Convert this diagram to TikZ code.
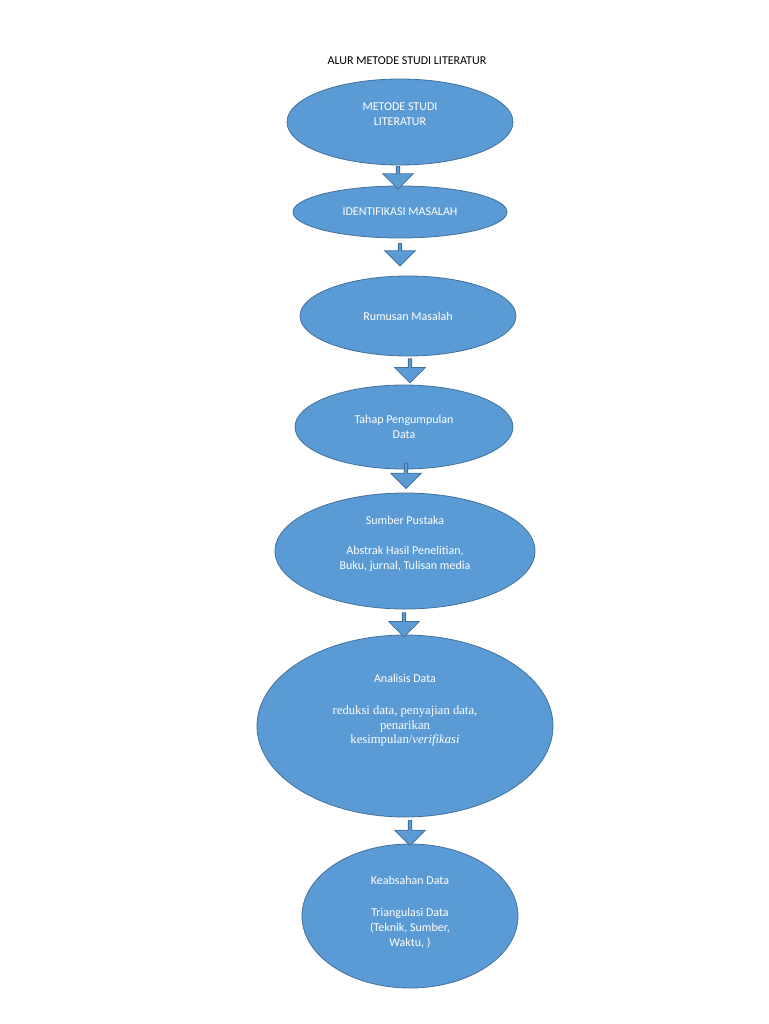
\documentclass[tikz,border=0pt]{standalone}
\usepackage{fontspec}
\setmainfont{Carlito}
\newfontfamily\serifrm{Liberation Serif}
\usetikzlibrary{shapes.arrows}

\definecolor{stepblue}{HTML}{5B9BD5}
\definecolor{stepedge}{HTML}{41719C}

\tikzset{
  stage/.style={draw=stepedge,fill=stepblue,line width=0.6pt},
  txt/.style={text=white,font=\fontsize{9}{11}\selectfont,align=center,inner sep=0.75pt},
  stxt/.style={text=white,font=\serifrm\fontsize{9.5}{11}\selectfont,align=center,inner sep=0.75pt},
  down/.style={single arrow,shape border rotate=270,draw=stepedge,fill=stepblue,line width=0.6pt,
    minimum width=23,single arrow head extend=2.5pt,single arrow head indent=0pt,inner sep=0pt,minimum height=#1},
}

\begin{document}
\begin{tikzpicture}[x=0.75pt,y=0.75pt,yscale=-1,xscale=1]
\useasboundingbox (0,0) rectangle (768,1024);

% ellipses
\draw[stage] (400,122) ellipse [x radius=113,y radius=43];
\draw[stage] (400,212) ellipse [x radius=107,y radius=26];
\draw[stage] (408,316) ellipse [x radius=108,y radius=40];
\draw[stage] (404,427) ellipse [x radius=109,y radius=42];
\draw[stage] (405,551) ellipse [x radius=130,y radius=58];
\draw[stage] (405,726) ellipse [x radius=148,y radius=91];
\draw[stage] (410,916) ellipse [x radius=108,y radius=72];

% block arrows
\node[down=17pt] (a1) at (398,177) {};
\node[down=17pt] (a2) at (400,254) {};
\node[down=18pt] (a3) at (410,370) {};
\node[down=19pt] (a4) at (406,475) {};
\node[down=18pt] (a5) at (404,624) {};
\node[down=19pt] (a6) at (410,832) {};

% texts
\node[font=\fontsize{9}{11}\selectfont] (title) at (407,61) {ALUR METODE STUDI LITERATUR};
\node[txt] (t1) at (400,114) {METODE STUDI\\LITERATUR};
\node[txt] (t2) at (400,212) {IDENTIFIKASI MASALAH};
\node[txt] (t3) at (408,316) {Rumusan Masalah};
\node[txt] (t4) at (404,427) {Tahap Pengumpulan\\Data};
\node[txt] (t5a) at (405,520) {Sumber Pustaka};
\node[txt] (t5b) at (405,559) {Abstrak Hasil Penelitian,\\Buku, jurnal, Tulisan media};
\node[txt] (t6a) at (405,678) {Analisis Data};
\node[stxt] (t6b) at (405,726) {reduksi data, penyajian data,\\penarikan\\kesimpulan/\textit{verifikasi}};
\node[txt] (t7a) at (410,880) {Keabsahan Data};
\node[txt] (t7b) at (410,928) {Triangulasi Data\\(Teknik, Sumber,\\Waktu, )};
\end{tikzpicture}
\end{document}
